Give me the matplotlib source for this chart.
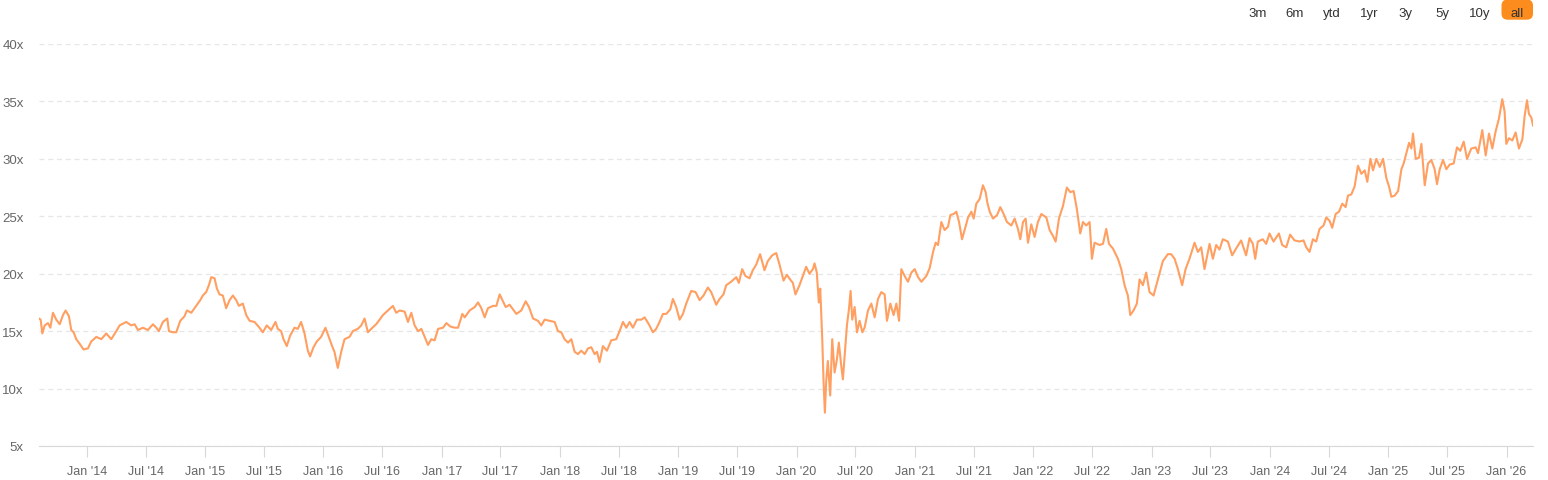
import datetime as dt
import matplotlib
matplotlib.use('Agg')
import matplotlib.pyplot as plt
import matplotlib.dates as mdates
from matplotlib.patches import FancyBboxPatch

plt.rcParams['font.family'] = ['Liberation Sans', 'DejaVu Sans']

# time in decimal years
years = [
    2013.595, 2013.609, 2013.623, 2013.643, 2013.671, 2013.691, 2013.713, 2013.741, 2013.770, 2013.798,
    2013.820, 2013.848, 2013.868, 2013.888, 2013.910, 2013.939, 2013.972, 2014.009, 2014.037, 2014.080,
    2014.122, 2014.164, 2014.206, 2014.249, 2014.277, 2014.333, 2014.375, 2014.404, 2014.432, 2014.474,
    2014.516, 2014.559, 2014.587, 2014.609, 2014.643, 2014.680, 2014.694, 2014.728, 2014.756, 2014.790,
    2014.826, 2014.846, 2014.883, 2014.925, 2014.959, 2014.981, 2015.009, 2015.032, 2015.052, 2015.080,
    2015.100, 2015.122, 2015.150, 2015.178, 2015.207, 2015.235, 2015.263, 2015.286, 2015.319, 2015.348,
    2015.376, 2015.418, 2015.460, 2015.488, 2015.522, 2015.559, 2015.595, 2015.615, 2015.643, 2015.663,
    2015.691, 2015.719, 2015.756, 2015.784, 2015.812, 2015.841, 2015.869, 2015.888, 2015.917, 2015.945,
    2015.981, 2016.018, 2016.046, 2016.074, 2016.094, 2016.122, 2016.151, 2016.179, 2016.221, 2016.249,
    2016.291, 2016.320, 2016.348, 2016.376, 2016.404, 2016.446, 2016.475, 2016.503, 2016.545, 2016.587,
    2016.615, 2016.644, 2016.686, 2016.714, 2016.742, 2016.770, 2016.799, 2016.827, 2016.855, 2016.883,
    2016.911, 2016.939, 2016.968, 2017.010, 2017.038, 2017.072, 2017.109, 2017.137, 2017.173, 2017.193,
    2017.235, 2017.278, 2017.306, 2017.334, 2017.362, 2017.390, 2017.433, 2017.461, 2017.489, 2017.512,
    2017.540, 2017.573,
    2017.602, 2017.630, 2017.672, 2017.709, 2017.737, 2017.771, 2017.813, 2017.841, 2017.869, 2017.912,
    2017.954, 2017.982, 2018.010, 2018.038, 2018.067, 2018.095, 2018.123, 2018.151, 2018.179, 2018.208,
    2018.236, 2018.264, 2018.292, 2018.312, 2018.334, 2018.362, 2018.396, 2018.433, 2018.475, 2018.503,
    2018.532, 2018.560, 2018.588, 2018.616, 2018.650, 2018.687, 2018.715, 2018.751, 2018.785, 2018.813,
    2018.841, 2018.870, 2018.898, 2018.932, 2018.954, 2018.982, 2019.011, 2019.039, 2019.067, 2019.109,
    2019.146, 2019.180, 2019.213, 2019.250, 2019.278, 2019.321, 2019.349, 2019.382, 2019.405, 2019.447,
    2019.490, 2019.512, 2019.540, 2019.568, 2019.602, 2019.630, 2019.659, 2019.692, 2019.729, 2019.757,
    2019.794, 2019.828, 2019.856, 2019.890, 2019.918, 2019.946, 2019.969, 2019.991, 2020.025, 2020.053,
    2020.081, 2020.109, 2020.138, 2020.152, 2020.171, 2020.188, 2020.200, 2020.217, 2020.228, 2020.239,
    2020.250, 2020.264, 2020.284, 2020.301, 2020.321, 2020.340, 2020.357, 2020.377, 2020.391, 2020.408,
    2020.425, 2020.442, 2020.456, 2020.470, 2020.490, 2020.510, 2020.532, 2020.555, 2020.574, 2020.603,
    2020.631, 2020.659, 2020.687, 2020.715, 2020.743, 2020.763, 2020.791, 2020.819, 2020.842, 2020.865,
    2020.884, 2020.912, 2020.940, 2020.969, 2020.997, 2021.025, 2021.053, 2021.095, 2021.124, 2021.152,
    2021.174, 2021.194, 2021.222, 2021.250, 2021.279, 2021.298, 2021.326, 2021.349, 2021.372, 2021.397,
    2021.419, 2021.448, 2021.476, 2021.496, 2021.518, 2021.546, 2021.574, 2021.597, 2021.611, 2021.631,
    2021.659, 2021.693, 2021.721, 2021.749, 2021.777, 2021.814, 2021.842, 2021.870, 2021.890, 2021.913,
    2021.935, 2021.955, 2021.983, 2022.011, 2022.039, 2022.068, 2022.110, 2022.138, 2022.166, 2022.189,
    2022.217, 2022.251, 2022.284, 2022.313, 2022.341, 2022.369, 2022.397, 2022.420, 2022.448, 2022.476,
    2022.496, 2022.518, 2022.561, 2022.589, 2022.617, 2022.640, 2022.673, 2022.716, 2022.744, 2022.772,
    2022.800, 2022.820, 2022.848, 2022.876, 2022.899, 2022.927, 2022.955, 2022.983, 2023.017, 2023.054,
    2023.096, 2023.138, 2023.166, 2023.195, 2023.223, 2023.259, 2023.288, 2023.321, 2023.364, 2023.392,
    2023.420,
    2023.448, 2023.491, 2023.519, 2023.547, 2023.575, 2023.603, 2023.646, 2023.682, 2023.716, 2023.758,
    2023.800, 2023.829, 2023.857, 2023.877, 2023.899, 2023.941, 2023.970, 2023.998, 2024.032, 2024.077,
    2024.105, 2024.139, 2024.172, 2024.209, 2024.251, 2024.285, 2024.308, 2024.336, 2024.364, 2024.392,
    2024.420, 2024.454, 2024.477, 2024.505, 2024.527, 2024.556, 2024.584, 2024.612, 2024.640, 2024.660,
    2024.688, 2024.716, 2024.744, 2024.773, 2024.801, 2024.823, 2024.849, 2024.871, 2024.899, 2024.928,
    2024.956, 2024.984, 2025.006, 2025.026, 2025.054, 2025.083, 2025.111, 2025.130, 2025.153, 2025.176,
    2025.195, 2025.209, 2025.232, 2025.260, 2025.280, 2025.308, 2025.336, 2025.364, 2025.392, 2025.412,
    2025.435, 2025.463, 2025.491, 2025.519, 2025.553, 2025.581, 2025.609, 2025.638, 2025.666, 2025.702,
    2025.739, 2025.759, 2025.795, 2025.824, 2025.852, 2025.880, 2025.908, 2025.936, 2025.964, 2025.984,
    2025.998, 2026.021, 2026.049, 2026.077, 2026.105, 2026.134, 2026.153, 2026.173, 2026.190, 2026.210,
    2026.224,
]

# P/E multiple
pe = [
    16.1, 16.0, 14.8, 15.5, 15.7, 15.3, 16.6, 16.0, 15.6, 16.4,
    16.8, 16.3, 15.1, 14.9, 14.3, 13.9, 13.4, 13.5, 14.1, 14.5,
    14.3, 14.8, 14.3, 15.0, 15.5, 15.8, 15.5, 15.6, 15.1, 15.3,
    15.1, 15.6, 15.3, 15.0, 15.8, 16.1, 15.0, 14.9, 14.9, 15.9,
    16.3, 16.8, 16.6, 17.2, 17.7, 18.1, 18.4, 19.0, 19.7, 19.6,
    18.7, 18.2, 18.1, 17.0, 17.7, 18.1, 17.7, 17.2, 17.4, 16.4,
    15.9, 15.8, 15.3, 14.9, 15.5, 15.1, 15.8, 15.2, 15.0, 14.3,
    13.7, 14.6, 15.3, 15.2, 15.8, 14.8, 13.3, 12.8, 13.6, 14.1,
    14.5, 15.3, 14.5, 13.7, 13.2, 11.8, 13.2, 14.3, 14.5, 15.0,
    15.2, 15.5, 16.1, 14.9, 15.2, 15.6, 16.0, 16.4, 16.8, 17.2,
    16.6, 16.8, 16.7, 15.8, 16.6, 15.5, 15.0, 15.2, 14.5, 13.8,
    14.3, 14.2, 15.2, 15.3, 15.7, 15.4, 15.3, 15.3, 16.5, 16.2,
    16.8, 17.1, 17.5, 17.0, 16.2, 17.0, 17.2, 17.2, 18.2, 17.7,
    17.1, 17.3,
    16.9, 16.5, 16.8, 17.6, 17.1, 16.1, 15.9, 15.5, 16.0, 15.9,
    15.8, 15.0, 14.9, 14.3, 14.0, 14.3, 13.2, 13.0, 13.3, 13.0,
    13.5, 13.6, 13.0, 13.2, 12.3, 13.7, 13.3, 14.2, 14.3, 15.0,
    15.8, 15.3, 15.8, 15.3, 16.0, 16.0, 16.2, 15.6, 14.9, 15.2,
    15.8, 16.5, 16.5, 16.9, 17.8, 17.1, 16.0, 16.5, 17.4, 18.5,
    18.4, 17.7, 18.1, 18.8, 18.4, 17.3, 17.8, 18.2, 19.0, 19.3,
    19.7, 19.2, 20.4, 19.8, 19.6, 20.3, 20.8, 21.7, 20.3, 21.1,
    21.6, 21.8, 20.8, 19.4, 19.9, 19.5, 19.2, 18.2, 19.0, 19.8,
    20.6, 20.0, 20.4, 20.9, 20.1, 17.5, 18.7, 14.3, 10.6, 7.9,
    10.6, 12.4, 9.4, 14.3, 11.4, 12.5, 14.0, 12.0, 10.8, 13.2,
    15.5, 16.9, 18.5, 16.0, 17.1, 14.9, 15.9, 14.9, 15.3, 16.8,
    17.4, 16.2, 17.8, 18.4, 18.2, 15.9, 17.4, 16.4, 17.4, 15.9,
    20.4, 19.8, 19.3, 20.1, 20.4, 19.7, 19.3, 19.8, 20.5, 21.9,
    22.7, 22.5, 24.5, 23.8, 24.1, 25.1, 25.2, 25.4, 24.5, 23.0,
    23.8, 24.9, 25.4, 24.8, 26.1, 26.5, 27.7, 27.1, 26.2, 25.4,
    24.8, 25.1, 25.8, 25.2, 24.5, 24.2, 24.8, 23.9, 23.0, 24.5,
    24.8, 22.7, 24.3, 23.2, 24.5, 25.2, 24.9, 23.8, 23.3, 22.8,
    24.8, 25.9, 27.5, 27.1, 27.2, 25.6, 23.5, 24.5, 24.2, 24.5,
    21.3, 22.7, 22.5, 22.6, 23.9, 22.6, 22.2, 21.3, 20.4, 19.0,
    18.1, 16.4, 16.8, 17.4, 19.5, 19.0, 20.1, 18.4, 18.1, 19.5,
    21.1, 21.7, 21.7, 21.3, 20.4, 19.0, 20.4, 21.3, 22.7, 21.9,
    22.3,
    20.4, 22.6, 21.3, 22.5, 22.1, 23.0, 22.8, 21.6, 22.2, 22.9,
    21.6, 23.1, 22.6, 21.3, 22.8, 23.0, 22.6, 23.5, 22.8, 23.5,
    22.5, 22.3, 23.4, 22.9, 22.8, 22.9, 22.3, 21.9, 23.0, 22.8,
    23.9, 24.2, 24.9, 24.6, 24.0, 25.2, 25.4, 26.1, 25.8, 26.8,
    26.9, 27.6, 29.4, 28.7, 29.0, 28.0, 30.0, 29.0, 30.0, 29.3,
    30.0, 28.3, 27.6, 26.7, 26.8, 27.2, 29.1, 29.6, 30.5, 31.4,
    30.9, 32.2, 30.0, 30.1, 31.3, 27.7, 29.6, 29.9, 29.1, 27.8,
    29.1, 29.9, 29.1, 29.5, 29.6, 31.0, 30.7, 31.5, 30.0, 30.9,
    31.0, 30.5, 32.5, 30.3, 32.2, 30.9, 32.4, 33.5, 35.2, 34.1,
    31.3, 31.8, 31.6, 32.3, 30.9, 31.7, 33.7, 35.1, 33.9, 33.6,
    32.9,
]

y_ticks = [5, 10, 15, 20, 25, 30, 35, 40]
ranges = ['3m', '6m', 'ytd', '1yr', '3y', '5y', '10y', 'all']


def to_date(y):
    yr = int(y)
    start = dt.datetime(yr, 1, 1)
    days = (dt.datetime(yr + 1, 1, 1) - start).days
    return start + dt.timedelta(days=(y - yr) * days)


dates = [to_date(y) for y in years]

fig = plt.figure(figsize=(15.48, 4.81), dpi=100)
ax = fig.add_axes([39 / 1548, 1 - 447 / 481, (1533 - 39) / 1548, (447 - 45) / 481])

ax.plot(dates, pe, color='#ff9f61', lw=1.5, solid_joinstyle='round')

ax.set_xlim(dates[0], dates[-1])
ax.set_ylim(5, 40)
ax.set_yticks(y_ticks)
ax.set_yticklabels([f'{v}x' for v in y_ticks])
ax.yaxis.grid(True, color='#e6e6e6', ls=(0, (4, 3)), lw=0.9)
ax.set_axisbelow(True)

ax.xaxis.set_major_locator(mdates.MonthLocator(bymonth=[1, 7]))
ax.xaxis.set_major_formatter(mdates.DateFormatter("%b '%y"))

for s in ['top', 'right', 'left']:
    ax.spines[s].set_visible(False)
ax.spines['bottom'].set_color('#d8d8d8')
ax.tick_params(axis='y', length=0, pad=11, labelsize=9.5, labelcolor='#666666')
ax.tick_params(axis='x', length=8, width=0.8, color='#d8d8d8', pad=6, labelsize=9, labelcolor='#666666')

# range selector buttons
btn_x = [1257.7, 1294.3, 1331.7, 1369.3, 1405.7, 1442.3, 1480, 1516.7]
box = FancyBboxPatch((1501.5 / 1548, 1 - 20.7 / 481), 31.5 / 1548, 20.2 / 481,
                     boxstyle='round,pad=0,rounding_size=0.004', transform=fig.transFigure,
                     fc='#fc8c1e', ec='none', mutation_aspect=3.2)
fig.patches.append(box)
for x, lab in zip(btn_x, ranges):
    fig.text(x / 1548, 1 - 12.5 / 481, lab, ha='center', va='center_baseline', fontsize=9.5, color='#333333')

fig.savefig('out.png', dpi=100)
